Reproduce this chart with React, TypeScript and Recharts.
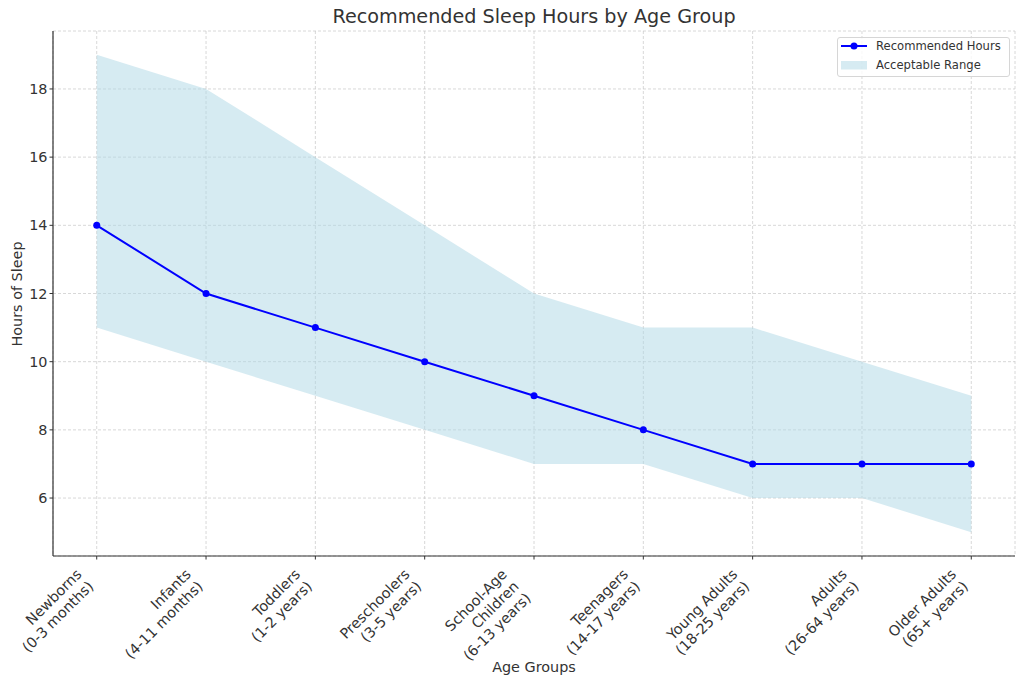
import React from "react";
import {
  ComposedChart,
  Line,
  Area,
  XAxis,
  YAxis,
  CartesianGrid,
} from "recharts";

const categories: string[][] = [
  ["Newborns", "(0-3 months)"],
  ["Infants", "(4-11 months)"],
  ["Toddlers", "(1-2 years)"],
  ["Preschoolers", "(3-5 years)"],
  ["School-Age", "Children", "(6-13 years)"],
  ["Teenagers", "(14-17 years)"],
  ["Young Adults", "(18-25 years)"],
  ["Adults", "(26-64 years)"],
  ["Older Adults", "(65+ years)"],
];
const recommended = [14, 12, 11, 10, 9, 8, 7, 7, 7];
const rangeLow = [11, 10, 9, 8, 7, 7, 6, 6, 5];
const rangeHigh = [19, 18, 16, 14, 12, 11, 11, 10, 9];
const yTicks = [6, 8, 10, 12, 14, 16, 18];

const data = categories.map((c, i) => ({
  idx: i,
  rec: recommended[i],
  range: [rangeLow[i], rangeHigh[i]],
}));

const FONT = "DejaVu Sans, Verdana, sans-serif";
const TXT = "#333333";
const FS = 14.4;

const XTick = (props: any) => {
  const { x, y, payload } = props;
  const lines = categories[payload.value] || [];
  const L = FS * 1.17;
  const n = lines.length;
  const ox = -0.707 * ((n - 1) * L + 3.3);
  const oy = 6 + 0.707 * 11;
  return (
    <g transform={`translate(${x + ox},${y + oy})`}>
      <text
        transform="rotate(-45)"
        textAnchor="end"
        fontSize={FS}
        fill={TXT}
        fontFamily={FONT}
      >
        {lines.map((l, i) => (
          <tspan key={i} x={0} dy={i === 0 ? 0 : L}>
            {l}
          </tspan>
        ))}
      </text>
    </g>
  );
};

const LegendBox = () => (
  <div
    style={{
      position: "absolute",
      left: 837,
      top: 37,
      width: 173,
      height: 40,
      boxSizing: "border-box",
      border: "1px solid #d6d6d6",
      borderRadius: 3,
      background: "rgba(255,255,255,0.8)",
      fontFamily: FONT,
      fontSize: 11.6,
      color: TXT,
    }}
  >
    <svg width={173} height={40} style={{ position: "absolute", left: -1, top: -1 }}>
      <line x1={4} y1={9} x2={30} y2={9} stroke="#0000ff" strokeWidth={2} />
      <circle cx={17} cy={9} r={3.5} fill="#0000ff" />
      <rect x={4} y={24} width={26} height={8.5} fill="#add8e6" fillOpacity={0.5} />
      <text x={39} y={13.2} fontSize={11.6} fill={TXT} fontFamily={FONT}>
        Recommended Hours
      </text>
      <text x={39} y={31.5} fontSize={11.6} fill={TXT} fontFamily={FONT}>
        Acceptable Range
      </text>
    </svg>
  </div>
);

export default function App() {
  return (
    <div style={{ position: "absolute", left: 0, top: 0, width: 1024, height: 685, background: "#fff" }}>
      <ComposedChart
        width={1024}
        height={685}
        data={data}
        margin={{ top: 31, right: 9, left: 0, bottom: 0 }}
      >
        <text
          x={534}
          y={23}
          textAnchor="middle"
          fontSize={19.2}
          fill={TXT}
          fontFamily={FONT}
        >
          Recommended Sleep Hours by Age Group
        </text>
        <text
          x={534}
          y={672}
          textAnchor="middle"
          fontSize={FS}
          fill={TXT}
          fontFamily={FONT}
        >
          Age Groups
        </text>
        <text
          x={22}
          y={294}
          transform="rotate(-90 22 294)"
          textAnchor="middle"
          fontSize={FS}
          fill={TXT}
          fontFamily={FONT}
        >
          Hours of Sleep
        </text>
        <XAxis
          dataKey="idx"
          type="number"
          domain={[-0.4, 8.4]}
          ticks={[0, 1, 2, 3, 4, 5, 6, 7, 8]}
          interval={0}
          height={129}
          tick={<XTick />}
          tickSize={3.5}
          axisLine={{ stroke: "#333", strokeWidth: 1.2 }}
          tickLine={{ stroke: "#333" }}
          allowDataOverflow
        />
        <YAxis
          type="number"
          domain={[4.3, 19.7]}
          ticks={yTicks}
          width={53}
          tickSize={3.5}
          allowDataOverflow
          axisLine={{ stroke: "#333", strokeWidth: 1.2 }}
          tickLine={{ stroke: "#333" }}
          tick={{ fontSize: FS, fill: TXT, fontFamily: FONT }}
        />
        <Area
          dataKey="range"
          type="linear"
          stroke="none"
          fill="#add8e6"
          fillOpacity={0.5}
          isAnimationActive={false}
          activeDot={false}
          dot={false}
        />
        <CartesianGrid
          stroke="#c8c8c8"
          strokeDasharray="3 2"
          strokeOpacity={0.7}
          horizontal
          vertical
        />
        <Line
          dataKey="rec"
          type="linear"
          stroke="#0000ff"
          strokeWidth={2}
          dot={{ r: 3.5, fill: "#0000ff", stroke: "#0000ff", strokeWidth: 0 }}
          activeDot={false}
          isAnimationActive={false}
        />
      </ComposedChart>
      <LegendBox />
    </div>
  );
}
